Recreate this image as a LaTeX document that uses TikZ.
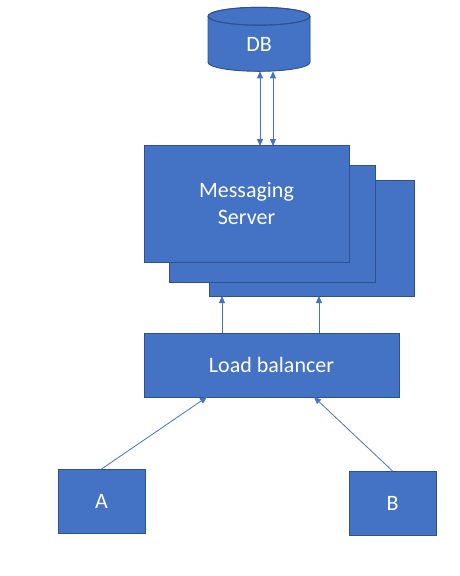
\documentclass[tikz,border=0pt]{standalone}
\usepackage{fontspec}
\setmainfont{Carlito}
\usetikzlibrary{shapes.geometric,arrows.meta,calc}
\definecolor{boxblue}{HTML}{4472C4}
\definecolor{boxedge}{HTML}{2F528F}
\tikzset{
  box/.style={rectangle,fill=boxblue,draw=boxedge,line width=0.9pt,inner sep=0pt,outer sep=0pt,
    text=white,font=\fontsize{22}{27}\selectfont,align=center},
  link/.style={draw=boxblue,line width=0.8pt,-{Triangle[length=7pt,width=6pt]}},
  twoway/.style={link,{Triangle[length=7pt,width=6pt]}-{Triangle[length=7pt,width=6pt]}}
}
\begin{document}
\begin{tikzpicture}[x=1pt,y=-1pt]
    \useasboundingbox (0,0) rectangle (459,576);
    \node(db)[box,cylinder,shape border rotate=90,aspect=0.7,minimum width=102pt,minimum height=64pt,
      cylinder uses custom fill,cylinder body fill=boxblue,cylinder end fill=boxblue] at (259,44) {DB};
    % rim of the top face
    \draw[boxedge,line width=0.9pt] let \p1=($(db.before top)!0.5!(db.after top)$), \p2=(db.top),
      \p3=(db.before top) in
      (\p1) ellipse[x radius={veclen(\x3-\x1,\y3-\y1)}, y radius={veclen(\x2-\x1,\y2-\y1)}];

    \node(server3)[box,minimum width=205pt,minimum height=116pt] at (311.5,238) {};
    \node(server2)[box,minimum width=206pt,minimum height=117pt] at (272,223.5) {};
    \node(server1)[box,minimum width=205pt,minimum height=117pt] at (246.5,203.5) {Messaging\\Server};

    \node(lb)[box,minimum width=255pt,minimum height=64pt] at (271.5,365) {Load balancer};
    \node(a)[box,minimum width=87pt,minimum height=64pt] at (101.5,501) {A};
    \node(b)[box,minimum width=87pt,minimum height=64pt] at (392.5,503) {B};

    % db <-> server
    \draw[twoway] ([xshift=1pt,yshift=-1pt]db.south |- server1.north) -- ([xshift=1pt]db.south);
    \draw[twoway] ([xshift=14pt,yshift=-1pt]db.south |- server1.north) -- ([xshift=14pt]db.south);

    % load balancer -> servers
    \draw[link] ([xshift=78pt]lb.north west) -- ([xshift=78pt]lb.north west |- server3.south);
    \draw[link] ([xshift=175pt]lb.north west) -- ([xshift=175pt]lb.north west |- server3.south);

    % clients -> load balancer
    \draw[link] (a.north) -- ([xshift=63pt]lb.south west);
    \draw[link] (b.north) -- ([xshift=170pt]lb.south west);
\end{tikzpicture}
\end{document}
